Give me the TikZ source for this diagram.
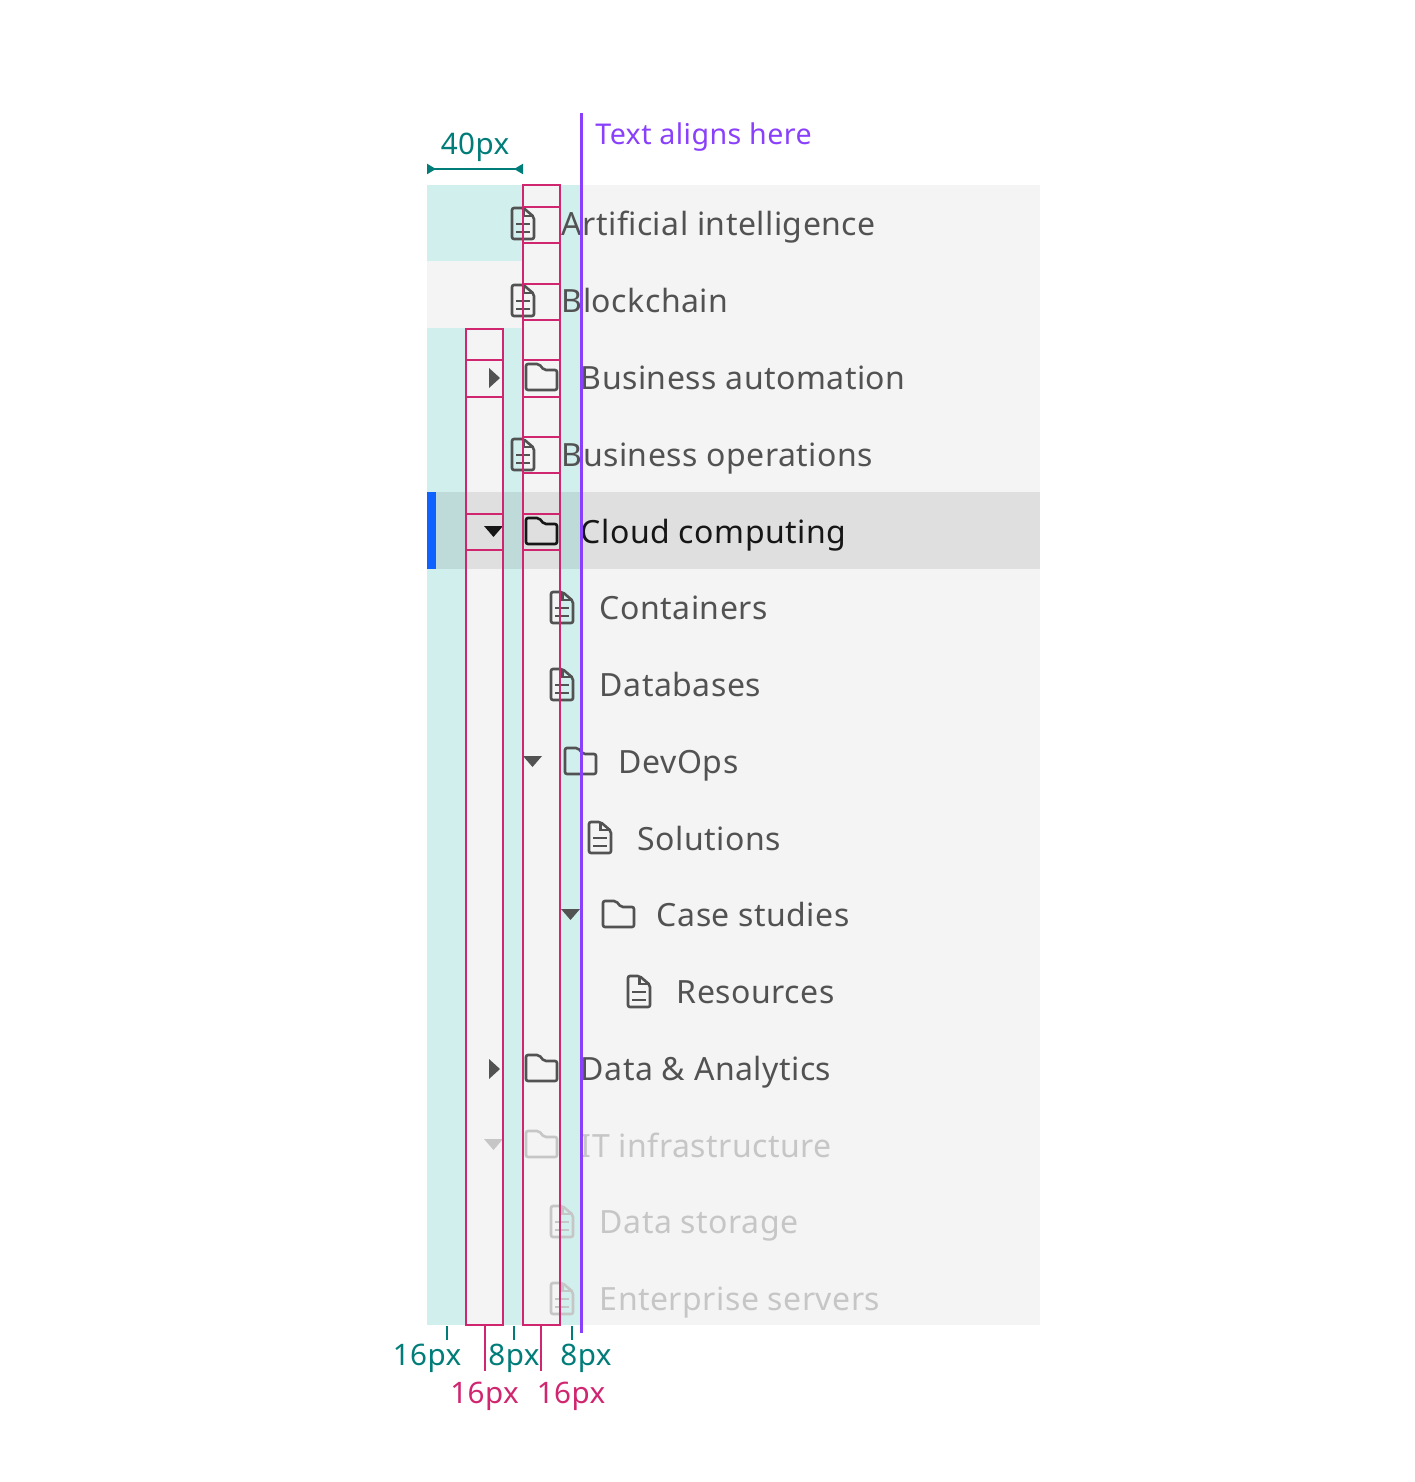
\documentclass[tikz,border=0pt]{standalone}
\usepackage{fontspec}
\setmainfont[LetterSpace=1.5]{Noto Sans}
\usetikzlibrary{arrows.meta}
\definecolor{rowbg}{HTML}{F4F4F4}
\definecolor{spacer}{HTML}{D0EFED}
\definecolor{spacerdark}{HTML}{007D79}
\definecolor{guidepink}{HTML}{D02670}
\definecolor{alignpurple}{HTML}{8A3FFC}
\definecolor{selblue}{HTML}{0F62FE}
\definecolor{rowtext}{HTML}{525252}
\definecolor{seltext}{HTML}{161616}
\definecolor{offtext}{HTML}{C6C6C6}
\tikzset{
    row/.style={anchor=base west, inner sep=0pt, font=\fontsize{16}{19}\selectfont},
    dimlabel/.style={anchor=base, inner sep=0pt, font=\fontsize{14.8}{19}\selectfont},
    guide/.style={draw=guidepink, line width=1.4pt},
    tick/.style={draw=spacerdark, line width=1pt},
    pics/docicon/.style={code={
        \draw[line width=1.3pt, rounded corners=1pt] (12.5,-16) -- (1,-16) -- (1,15) -- (23,15) -- (23,-7) -- cycle;
        \draw[line width=1.3pt] (12.5,-16) -- (12.5,-8) -- (23,-8);
        \draw[line width=1.3pt] (5,0) -- (19,0) (5,8) -- (19,8);
    }},
    pics/foldericon/.style={code={
        \draw[line width=1.3pt, rounded corners=1pt] (1,-14) -- (14,-14) -- (19,-8) -- (32,-8) -- (32,12) -- (1,12) -- cycle;
    }},
    pics/arrowright/.style={code={\fill (0,-10) -- (11,0) -- (0,10) -- cycle;}},
    pics/arrowdown/.style={code={\fill (0,-6) -- (19,-6) -- (9.5,5) -- cycle;}}
}
\begin{document}
\begin{tikzpicture}[x=0.5pt, y=-0.5pt]
    \useasboundingbox (0,0) rectangle (1414,1482);

    % Backgrounds
    \fill[rowbg] (427,185) rectangle (1040,1325);
    \fill[spacer] (427,185) rectangle (523,261);
    \fill[spacer] (427,328) rectangle (466,1325);
    \fill[spacer] (503,328) rectangle (523,1325);
    \fill[spacer] (560,185) rectangle (581,1325);
    \fill[black, opacity=0.082] (427,492) rectangle (1040,569);
    \fill[selblue] (427,492) rectangle (436,569);

    % Labels
    \node[row, text=rowtext] (artificial) at (561.5,235.5) {Artificial intelligence};
    \node[row, text=rowtext] (blockchain) at (561.5,312) {Blockchain};
    \node[row, text=rowtext] (automation) at (580.5,389) {Business automation};
    \node[row, text=rowtext] (operations) at (561.5,466) {Business operations};
    \node[row, text=seltext] (cloud) at (580.5,543) {Cloud computing};
    \node[row, text=rowtext] (containers) at (599.5,619) {Containers};
    \node[row, text=rowtext] (databases) at (599.5,696) {Databases};
    \node[row, text=rowtext] (devops) at (618.5,773) {DevOps};
    \node[row, text=rowtext] (solutions) at (637.5,850) {Solutions};
    \node[row, text=rowtext] (casestudies) at (656.5,926) {Case studies};
    \node[row, text=rowtext] (resources) at (676.5,1003) {Resources};
    \node[row, text=rowtext] (analytics) at (580.5,1080) {Data \& Analytics};
    \node[row, text=offtext] (infrastructure) at (580.5,1157) {IT infrastructure};
    \node[row, text=offtext] (storage) at (599.5,1233) {Data storage};
    \node[row, text=offtext] (servers) at (599.5,1310) {Enterprise servers};

    % Icons
    \pic[color=rowtext] at (511,224) {docicon};
    \pic[color=rowtext] at (511,301) {docicon};
    \pic[color=rowtext] at (525,378) {foldericon};
    \pic[color=rowtext] at (511,455) {docicon};
    \pic[color=seltext] at (525,532) {foldericon};
    \pic[color=rowtext] at (550,608) {docicon};
    \pic[color=rowtext] at (550,685) {docicon};
    \pic[color=rowtext] at (564,762) {foldericon};
    \pic[color=rowtext] at (588,838) {docicon};
    \pic[color=rowtext] at (602,915) {foldericon};
    \pic[color=rowtext] at (627,992) {docicon};
    \pic[color=rowtext] at (525,1069) {foldericon};
    \pic[color=offtext] at (525,1145) {foldericon};
    \pic[color=offtext] at (550,1222) {docicon};
    \pic[color=offtext] at (550,1299) {docicon};

    % Chevrons
    \pic[color=rowtext] at (489,378) {arrowright};
    \pic[color=seltext] at (484,532) {arrowdown};
    \pic[color=rowtext] at (523,762) {arrowdown};
    \pic[color=rowtext] at (561,915) {arrowdown};
    \pic[color=rowtext] at (489,1069) {arrowright};
    \pic[color=offtext] at (484,1145) {arrowdown};

    % Pink columns
    \draw[guide] (466,329) rectangle (503,1325);
    \draw[guide] (466,360) rectangle (503,397);
    \draw[guide] (466,514) rectangle (503,550);
    \draw[guide] (523,185) rectangle (560,1325);
    \draw[guide] (523,207) rectangle (560,243);
    \draw[guide] (523,284) rectangle (560,320);
    \draw[guide] (523,360) rectangle (560,397);
    \draw[guide] (523,437) rectangle (560,473);
    \draw[guide] (523,514) rectangle (560,550);

    % Alignment line
    \coordinate (aligntop) at (581,113);
    \coordinate (alignbot) at (581,1333);
    \draw[alignpurple, line width=1.5pt] (aligntop) -- (alignbot);
    \node[row, text=alignpurple, font=\fontsize{14.3}{18}\selectfont] (alignlabel) at (595,145) {Text aligns here};

    % Width
    \coordinate (widthl) at (427,169);
    \coordinate (widthr) at (523,169);
    \draw[spacerdark, line width=1pt, {Triangle[reversed, length=4.5pt, width=5pt]}-{Triangle[reversed, length=4.5pt, width=5pt]}] (widthl) -- (widthr);
    \node[dimlabel, text=spacerdark] (widthlabel) at (475,155) {40px};

    % Ticks
    \coordinate (tealatop) at (447,1326);
    \coordinate (tealabot) at (447,1340);
    \coordinate (tealbtop) at (514,1326);
    \coordinate (tealbbot) at (514,1340);
    \coordinate (tealctop) at (572,1326);
    \coordinate (tealcbot) at (572,1340);
    \coordinate (pinkatop) at (485,1325);
    \coordinate (pinkabot) at (485,1371);
    \coordinate (pinkbtop) at (541,1325);
    \coordinate (pinkbbot) at (541,1371);
    \draw[tick] (tealatop) -- (tealabot);
    \draw[tick] (tealbtop) -- (tealbbot);
    \draw[tick] (tealctop) -- (tealcbot);
    \draw[guide] (pinkatop) -- (pinkabot);
    \draw[guide] (pinkbtop) -- (pinkbbot);

    \node[dimlabel, text=spacerdark] (tealalabel) at (427,1365) {16px};
    \node[dimlabel, text=spacerdark] (tealblabel) at (514,1365) {8px};
    \node[dimlabel, text=spacerdark] (tealclabel) at (586,1365) {8px};
    \node[dimlabel, text=guidepink] (pinkalabel) at (484.5,1403) {16px};
    \node[dimlabel, text=guidepink] (pinkblabel) at (571,1403) {16px};
\end{tikzpicture}
\end{document}
